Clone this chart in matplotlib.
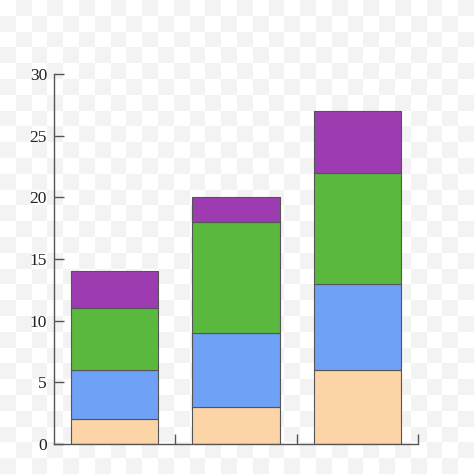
import numpy as np
import matplotlib
matplotlib.use('Agg')
import matplotlib.pyplot as plt

categories = ['A', 'B', 'C']
layer1 = [2, 3, 6]
layer2 = [4, 6, 7]
layer3 = [5, 9, 9]
layer4 = [3, 2, 5]
colors = ['#fdd4a6', '#6fa1f6', '#5bb83e', '#9d3bb0']

plt.rcParams['font.family'] = ['Liberation Serif', 'DejaVu Serif']

fig = plt.figure(figsize=(4.74, 4.74), dpi=100)

# transparent-style checkerboard background
bg = fig.add_axes([0, 0, 1, 1], zorder=-10)
n = 30
checker = (np.indices((n, n)).sum(axis=0) % 2).astype(float)
bg.imshow(checker, cmap='Greys', vmin=0, vmax=10, interpolation='nearest',
          extent=[0, 1, 0, 1], aspect='auto')
bg.axis('off')

ax = fig.add_axes([54 / 474, 30 / 474, 364 / 474, 370 / 474])
ax.patch.set_alpha(0)

x = np.arange(len(categories))
bottom = np.zeros(len(categories))
for vals, c in zip([layer1, layer2, layer3, layer4], colors):
    ax.bar(x, vals, width=0.72, bottom=bottom, color=c, edgecolor='#555555', linewidth=0.8)
    bottom += np.array(vals)

ax.set_xlim(-0.5, 2.5)
ax.set_ylim(0, 30)
ax.set_yticks([0, 5, 10, 15, 20, 25, 30])
ax.set_xticks([0.5, 1.5, 2.5])
ax.set_xticklabels([])
ax.tick_params(axis='both', direction='in', length=7, width=1, color='#555555',
               labelsize=12.5, labelcolor='#222222')
ax.tick_params(axis='y', pad=5)
for s in ['top', 'right']:
    ax.spines[s].set_visible(False)
for s in ['left', 'bottom']:
    ax.spines[s].set_color('#555555')
    ax.spines[s].set_linewidth(1)

fig.savefig('out.png', dpi=100)
